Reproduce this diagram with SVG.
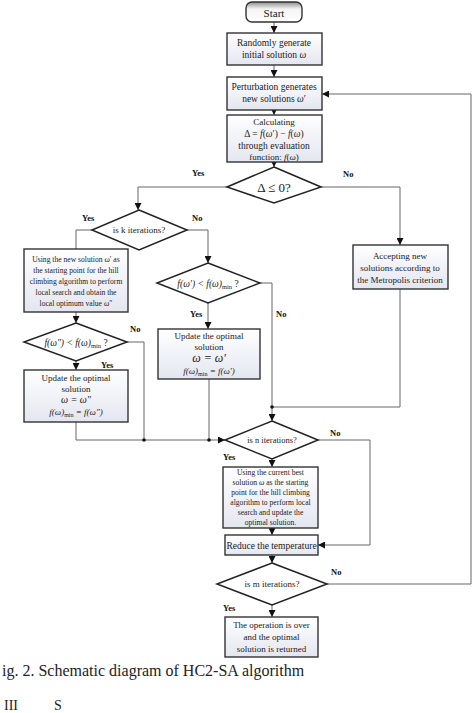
<svg xmlns="http://www.w3.org/2000/svg" width="474" height="713" viewBox="0 0 474 713" font-family="Liberation Serif, serif">
<defs>
<linearGradient id="bg" x1="0" y1="0" x2="0" y2="1"><stop offset="0" stop-color="#ffffff"/><stop offset="1" stop-color="#e4e6f0"/></linearGradient>
<linearGradient id="sg" x1="0" y1="0" x2="0" y2="1"><stop offset="0" stop-color="#8e8e8e"/><stop offset="0.35" stop-color="#f4f4f4"/><stop offset="1" stop-color="#ffffff"/></linearGradient>
<marker id="ah" viewBox="0 0 10 10" refX="10" refY="5" markerWidth="7" markerHeight="7" orient="auto" markerUnits="userSpaceOnUse"><path d="M0,0 L10,5 L0,10 z" fill="#111"/></marker>
<style>
.box{fill:url(#bg);stroke:#333;stroke-width:1.4}
.dia{fill:#fff;stroke:#222;stroke-width:1.5}
.ln{fill:none;stroke:#666;stroke-width:1}
.t{font-family:Liberation Serif,serif;fill:#222;text-anchor:middle}
.i{font-style:italic}
.lb{font-family:Liberation Serif,serif;font-weight:bold;font-size:8.5px;fill:#111}
.dot{fill:#111}
</style>
</defs>
<rect width="474" height="713" fill="#fff"/>
<g id="connectors">
<line class="ln" x1="274" y1="22" x2="274" y2="33" marker-end="url(#ah)"/>
<line class="ln" x1="274" y1="65" x2="274" y2="77" marker-end="url(#ah)"/>
<line class="ln" x1="274" y1="110" x2="274" y2="115" marker-end="url(#ah)"/>
<line class="ln" x1="274" y1="162" x2="274" y2="167" marker-end="url(#ah)"/>
<polyline class="ln" points="227,187 138,187 138,210" marker-end="url(#ah)"/>
<polyline class="ln" points="321,187 400,187 400,245" marker-end="url(#ah)"/>
<polyline class="ln" points="92,230 76,230 76,249"/>
<polyline class="ln" points="187,230 208,230 208,263" marker-end="url(#ah)"/>
<line class="ln" x1="76" y1="312" x2="76" y2="323" marker-end="url(#ah)"/>
<line class="ln" x1="76" y1="361" x2="76" y2="370" marker-end="url(#ah)"/>
<line class="ln" x1="208" y1="303" x2="208" y2="329" marker-end="url(#ah)"/>
<polyline class="ln" points="260,283 272,283 272,407"/>
<polyline class="ln" points="400,289 400,407 272,407"/>
<line class="ln" x1="272" y1="407" x2="272" y2="421" marker-end="url(#ah)"/>
<polyline class="ln" points="127,342 144,342 144,440"/>
<polyline class="ln" points="76,422 76,440 225,440" marker-end="url(#ah)"/>
<line class="ln" x1="209" y1="379" x2="209" y2="440"/>
<circle class="dot" cx="144" cy="440" r="1.8"/>
<circle class="dot" cx="209" cy="440" r="1.8"/>
<circle class="dot" cx="272" cy="407" r="1.8"/>
<line class="ln" x1="272" y1="459" x2="272" y2="467" marker-end="url(#ah)"/>
<polyline class="ln" points="318,440 370,440 370,545 318,545" marker-end="url(#ah)"/>
<line class="ln" x1="272" y1="528" x2="272" y2="535" marker-end="url(#ah)"/>
<line class="ln" x1="272" y1="555" x2="272" y2="563" marker-end="url(#ah)"/>
<line class="ln" x1="272" y1="605" x2="272" y2="617" marker-end="url(#ah)"/>
<polyline class="ln" points="327,584 471,584 471,94 322,94" marker-end="url(#ah)"/>
</g>
<g id="labels">
<text class="lb" x="192" y="176">Yes</text>
<text class="lb" x="343" y="177">No</text>
<text class="lb" x="82" y="221">Yes</text>
<text class="lb" x="192" y="221">No</text>
<text class="lb" x="130" y="332">No</text>
<text class="lb" x="101" y="368">Yes</text>
<text class="lb" x="190" y="317">Yes</text>
<text class="lb" x="276" y="317">No</text>
<text class="lb" x="330" y="436">No</text>
<text class="lb" x="223" y="460">Yes</text>
<text class="lb" x="331" y="575">No</text>
<text class="lb" x="223" y="611">Yes</text>
</g>
<g id="start">
<rect x="246" y="2" width="56" height="20" rx="6" fill="url(#sg)" stroke="#333" stroke-width="1.4"/>
<text class="t" x="274" y="16.5" font-size="11">Start</text>
</g>
<g id="init">
<rect class="box" x="227" y="33" width="95" height="32"/>
<text class="t" font-size="9.5" x="274" y="46">Randomly generate</text>
<text class="t" font-size="9.5" x="274" y="58">initial solution <tspan class="i">ω</tspan></text>
</g>
<g id="perturb">
<rect class="box" x="227" y="77" width="95" height="33"/>
<text class="t" font-size="9.5" x="274" y="90">Perturbation generates</text>
<text class="t" font-size="9.5" x="274" y="102">new solutions <tspan class="i">ω</tspan>′</text>
</g>
<g id="calc">
<rect class="box" x="227" y="115" width="95" height="47"/>
<text class="t" font-size="9" x="274" y="125">Calculating</text>
<text class="t" font-size="9.5" x="274" y="137">Δ = <tspan class="i">f</tspan>(<tspan class="i">ω</tspan>′) − <tspan class="i">f</tspan>(<tspan class="i">ω</tspan>)</text>
<text class="t" font-size="9.5" x="274" y="149">through evaluation</text>
<text class="t" font-size="9" x="274" y="159.5">function: <tspan class="i">f</tspan>(<tspan class="i">ω</tspan>)</text>
</g>
<g id="delta">
<polygon class="dia" points="274,167 321,187 274,203 227,187"/>
<text class="t" font-size="13" x="274" y="192">Δ ≤ 0?</text>
</g>
<g id="kiter">
<polygon class="dia" points="139,210 187,230 139,250 92,230"/>
<text class="t" font-size="9" x="139" y="233">is k iterations?</text>
</g>
<g id="accept">
<rect class="box" x="353" y="245" width="95" height="44"/>
<text class="t" font-size="9" x="400" y="259">Accepting new</text>
<text class="t" font-size="9" x="400" y="271">solutions according to</text>
<text class="t" font-size="9" x="400" y="283">the Metropolis criterion</text>
</g>
<g id="hill1">
<rect class="box" x="24" y="249" width="104" height="63"/>
<text class="t" font-size="7.6" x="76" y="262">Using the new solution <tspan class="i">ω</tspan>′ as</text>
<text class="t" font-size="7.6" x="76" y="273">the starting point for the hill</text>
<text class="t" font-size="7.6" x="76" y="284">climbing algorithm to perform</text>
<text class="t" font-size="7.6" x="76" y="295">local search and obtain the</text>
<text class="t" font-size="7.6" x="76" y="306">local optimum value <tspan class="i">ω</tspan>″</text>
</g>
<g id="cmp2">
<polygon class="dia" points="208,263 260,283 208,303 157,283"/>
<text class="t i" font-size="9.5" x="208" y="286.5">f(ω′) &lt; f(ω)<tspan font-size="6.5" dy="2" font-style="normal">min</tspan><tspan dy="-2" font-style="normal"> ?</tspan></text>
</g>
<g id="cmp1">
<polygon class="dia" points="76,323 127,342 76,361 24,342"/>
<text class="t i" font-size="9.5" x="76" y="345.5">f(ω″) &lt; f(ω)<tspan font-size="6.5" dy="2" font-style="normal">min</tspan><tspan dy="-2" font-style="normal"> ?</tspan></text>
</g>
<g id="update2">
<rect class="box" x="158" y="329" width="102" height="50"/>
<text class="t" font-size="9" x="209" y="339">Update the optimal</text>
<text class="t" font-size="9" x="209" y="350">solution</text>
<text class="t i" font-size="12" x="209" y="362">ω = ω′</text>
<text class="t i" font-size="9" x="209" y="374">f(ω)<tspan font-size="6" dy="2" font-style="normal">min</tspan><tspan dy="-2"> = f(ω′)</tspan></text>
</g>
<g id="update1">
<rect class="box" x="24" y="370" width="104" height="52"/>
<text class="t" font-size="9" x="76" y="381">Update the optimal</text>
<text class="t" font-size="9" x="76" y="392">solution</text>
<text class="t i" font-size="10" x="76" y="403">ω = ω″</text>
<text class="t i" font-size="9" x="76" y="415">f(ω)<tspan font-size="6" dy="2" font-style="normal">min</tspan><tspan dy="-2"> = f(ω″)</tspan></text>
</g>
<g id="niter">
<polygon class="dia" points="272,421 318,440 272,459 225,440"/>
<text class="t" font-size="8.5" x="272" y="443">is n iterations?</text>
</g>
<g id="hill2">
<rect class="box" x="223" y="467" width="95" height="61"/>
<text class="t" font-size="7.6" x="270.5" y="474.5">Using the current best</text>
<text class="t" font-size="7.6" x="270.5" y="484.5">solution <tspan class="i">ω</tspan> as the starting</text>
<text class="t" font-size="7.6" x="270.5" y="494.5">point for the hill climbing</text>
<text class="t" font-size="7.6" x="270.5" y="504.5">algorithm to perform local</text>
<text class="t" font-size="7.6" x="270.5" y="514.5">search and update the</text>
<text class="t" font-size="7.6" x="270.5" y="524.5">optimal solution.</text>
</g>
<g id="reduce">
<rect class="box" x="225" y="535" width="93" height="20"/>
<text class="t" font-size="9.5" x="271.5" y="548.5">Reduce the temperature</text>
</g>
<g id="miter">
<polygon class="dia" points="272,563 327,584 272,605 217,584"/>
<text class="t" font-size="9" x="272" y="587">is m iterations?</text>
</g>
<g id="end">
<rect class="box" x="225" y="617" width="93" height="40"/>
<text class="t" font-size="9" x="271.5" y="628">The operation is over</text>
<text class="t" font-size="9" x="271.5" y="640">and the optimal</text>
<text class="t" font-size="9" x="271.5" y="652">solution is returned</text>
</g>
<g id="caption">
<text font-family="Liberation Serif, serif" font-size="16" fill="#222" x="2" y="676">ig. 2. Schematic diagram of HC2-SA algorithm</text>
<text font-family="Liberation Serif, serif" font-size="14" fill="#222" x="4" y="710">III</text>
<text font-family="Liberation Serif, serif" font-size="14" fill="#222" x="54" y="710">S</text>
</g>
</svg>
